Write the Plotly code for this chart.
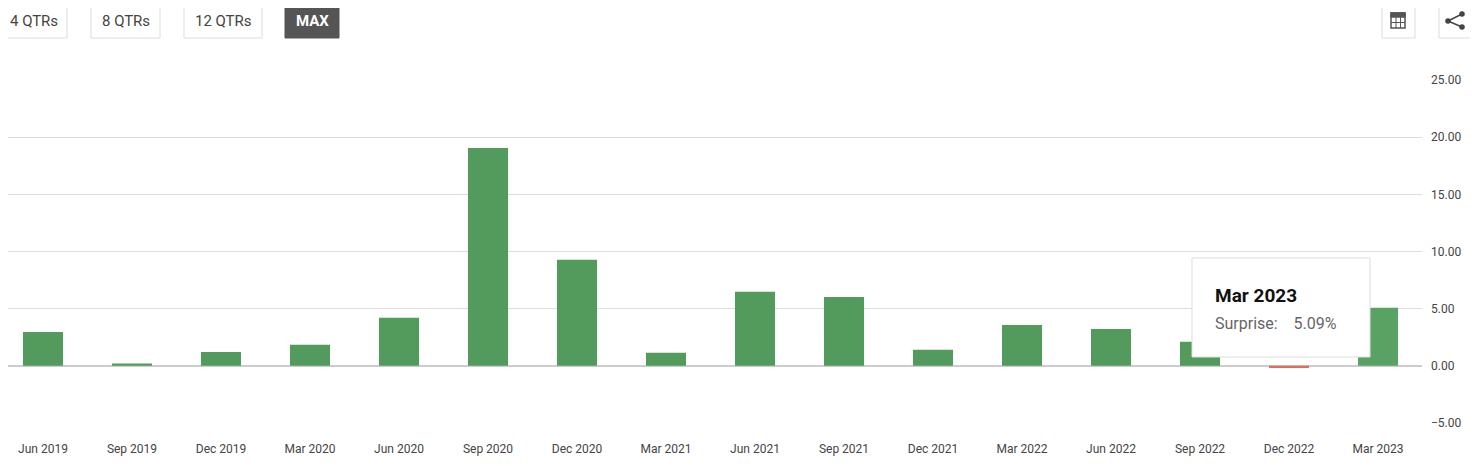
import plotly.graph_objects as go

quarters = ["Jun 2019","Sep 2019","Dec 2019","Mar 2020","Jun 2020","Sep 2020","Dec 2020","Mar 2021",
            "Jun 2021","Sep 2021","Dec 2021","Mar 2022","Jun 2022","Sep 2022","Dec 2022","Mar 2023"]
surprise = [2.97,0.2,1.22,1.84,4.2,19.06,9.27,1.14,6.47,6.03,1.4,3.58,3.23,2.1,-0.2,5.09]
yticks = [-5,0,5,10,15,20,25]
buttons = ["4 QTRs","8 QTRs","12 QTRs","MAX"]

OFF = 8
W,H = 1478-OFF,466-OFF
L,R,T,B = 0,56,72,43
pw, ph = W-L-R, H-T-B
def px(x): return (x-OFF-L)/pw
def py(y): return (H-B-(y-OFF))/ph

colors = ["#5aa264" if i==len(surprise)-1 else ("#e06c5a" if v<0 else "#529b5c") for i,v in enumerate(surprise)]
fig = go.Figure(go.Bar(x=quarters, y=surprise, marker_color=colors, width=0.45, marker_line_width=0))

P = dict(xref="paper", yref="paper")
shapes = []
ann = []
bx = [(-5,67),(91,160),(184,262),(285,339)]
for (a,b),t in zip(bx,buttons):
    sel = t=="MAX"
    shapes.append(dict(type="rect", **P, x0=px(a), x1=px(b), y0=py(38), y1=py(5),
                       fillcolor="#555555" if sel else "white", line=dict(color="#555555" if sel else "#dddddd", width=1)))
    ann.append(dict(**P, x=px((a+b)/2+(3 if a<0 else 0)), y=py(21), text=("<b>%s</b>"%t) if sel else t,
                    showarrow=False, font=dict(size=15, color="white" if sel else "#444"), xanchor="center", yanchor="middle"))
for a,b in [(1382,1415),(1439,1472)]:
    shapes.append(dict(type="rect", **P, x0=px(a), x1=px(b), y0=py(38), y1=py(5),
                       fillcolor="white", line=dict(color="#dddddd", width=1)))
# table icon
shapes.append(dict(type="rect", **P, x0=px(1391), x1=px(1405), y0=py(28), y1=py(13), fillcolor="white", line=dict(color="#555", width=1.5)))
shapes.append(dict(type="rect", **P, x0=px(1391), x1=px(1405), y0=py(17), y1=py(13), fillcolor="#555", line=dict(color="#555", width=1.5)))
for xx in (1396, 1400.5):
    shapes.append(dict(type="line", **P, x0=px(xx), x1=px(xx), y0=py(28), y1=py(17), line=dict(color="#555", width=1)))
shapes.append(dict(type="line", **P, x0=px(1391), x1=px(1405), y0=py(22.5), y1=py(22.5), line=dict(color="#555", width=1)))
# share icon
pts = [(1448,21),(1462,14),(1462,27)]
for (x1,y1) in pts[1:]:
    shapes.append(dict(type="line", **P, x0=px(pts[0][0]), y0=py(pts[0][1]), x1=px(x1), y1=py(y1), line=dict(color="#444", width=1.5)))
for (x,y) in pts:
    shapes.append(dict(type="circle", **P, x0=px(x-2.8), x1=px(x+2.8), y0=py(y+2.8), y1=py(y-2.8), fillcolor="#444", line_width=0))
# tooltip
shapes.append(dict(type="rect", **P, x0=px(1192), x1=px(1370), y0=py(357), y1=py(258),
                   fillcolor="white", line=dict(color="#dddddd", width=1), layer="above"))
ann.append(dict(**P, x=px(1213), y=py(295), text="<b>Mar 2023</b>", showarrow=False,
                xanchor="left", yanchor="middle", font=dict(size=19, color="#111")))
ann.append(dict(**P, x=px(1213), y=py(323), text="Surprise:    5.09%", showarrow=False,
                xanchor="left", yanchor="middle", font=dict(size=16, color="#666")))

fig.update_layout(width=W, height=H, margin=dict(l=L,r=R,t=T,b=B), plot_bgcolor="white", paper_bgcolor="white",
                  font=dict(family="Roboto", color="#444"), showlegend=False, shapes=shapes, annotations=ann)
fig.update_yaxes(side="right", range=[-5,25], tickvals=yticks, tickformat=".2f", gridcolor="#dddddd",
                 zeroline=True, zerolinecolor="#cccccc", tickfont=dict(size=12), ticklabelstandoff=8)
fig.update_xaxes(tickfont=dict(size=12), showline=False, ticklabelstandoff=17, range=[-0.393, 15.494])
fig.write_html("out.html")
